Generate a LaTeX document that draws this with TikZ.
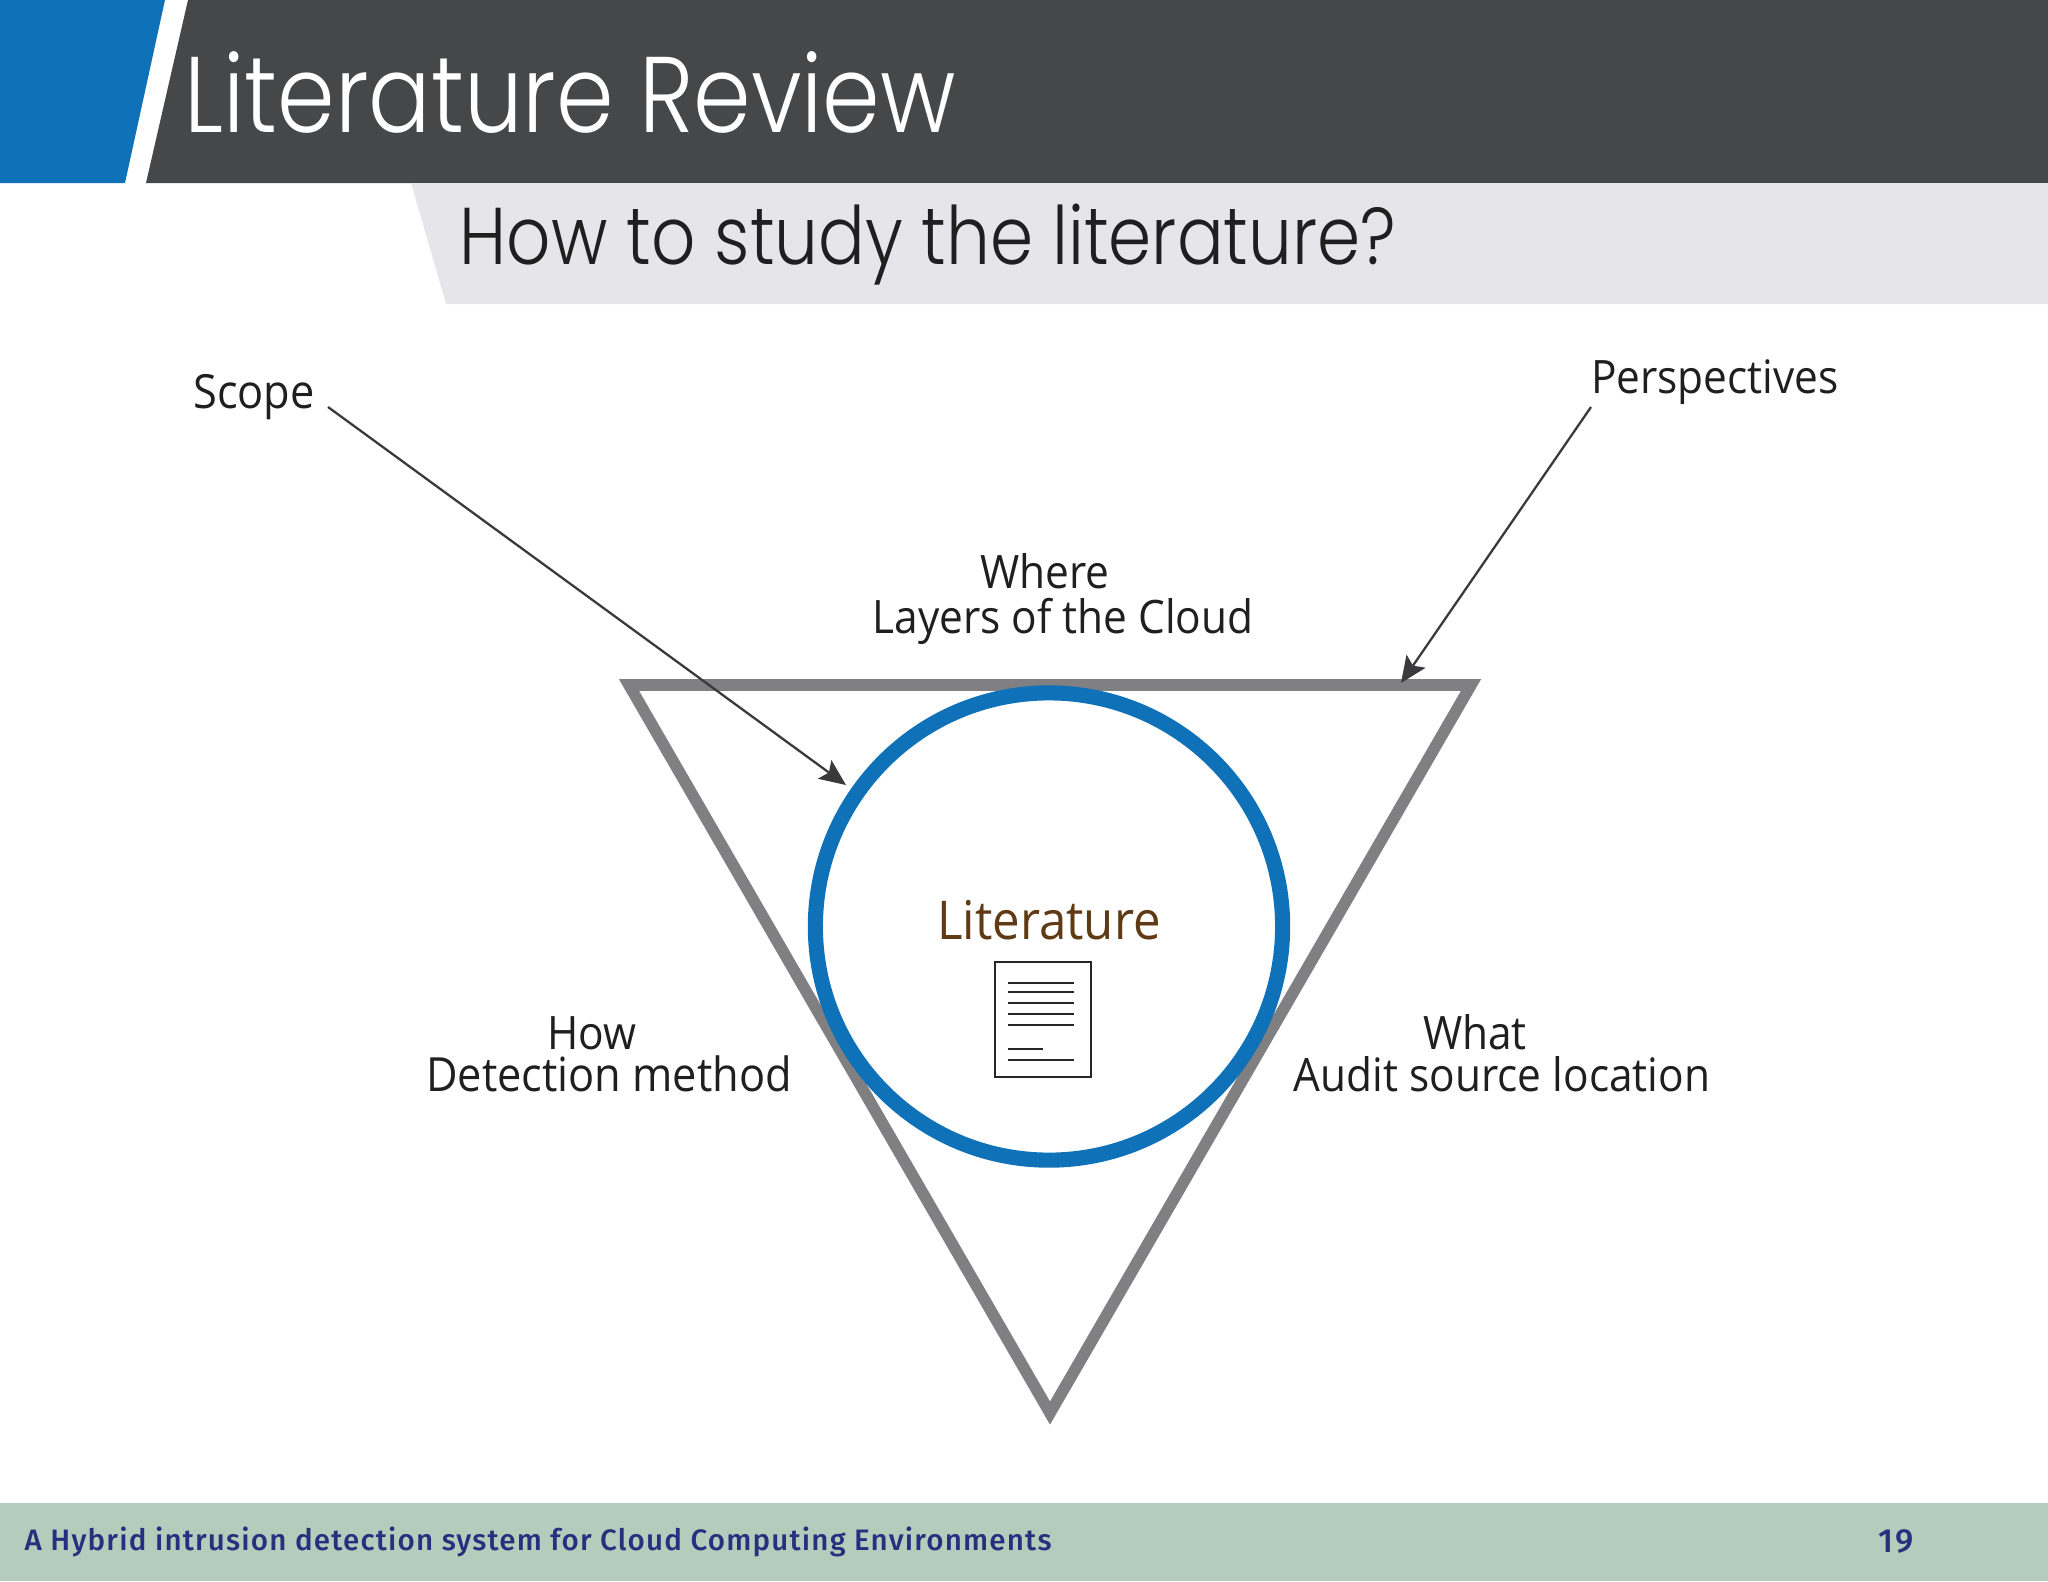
\documentclass[tikz,border=0pt]{standalone}
\usepackage{fontspec}
\usetikzlibrary{arrows.meta}
\setmainfont{Open Sans}
\newfontfamily\headfont[FakeStretch=0.86]{Poppins Light}
\newfontfamily\labelfont[FakeStretch=0.92]{Open Sans}
\newfontfamily\footfont[LetterSpace=4]{Fira Sans Medium}
\definecolor{barblue}{HTML}{0F71B7}
\definecolor{bardark}{HTML}{464748}
\definecolor{bargray}{HTML}{E6E5E9}
\definecolor{barfoot}{HTML}{B3CCBB}
\definecolor{footink}{HTML}{27307F}
\definecolor{litbrown}{HTML}{5F3A14}
\definecolor{trigray}{HTML}{808082}
\definecolor{arrowink}{HTML}{3A3A3C}
\tikzset{
lbl/.style={anchor=base,inner sep=0pt,text=black!88,font=\labelfont\fontsize{13.1}{13.1}\selectfont},
lblwide/.style={lbl,font=\labelfont\fontsize{13.4}{13.4}\selectfont},
arw/.style={draw=arrowink,line width=0.65pt,-{Stealth[length=7.5pt,width=6.5pt,inset=1.5pt]}},
paper/.pic={
  \draw[line width=0.75pt,black!85] (0,0) rectangle (96,115);
  \foreach \y in {21,30,41,52,63,98}
    \draw[line width=0.75pt,black!85] (13,\y) -- (79,\y);
  \draw[line width=0.75pt,black!85] (13,87) -- (48,87);
  }
}
\begin{document}
\begin{tikzpicture}[x=0.01cm,y=-0.01cm]
\useasboundingbox (0,0) rectangle (2048,1581);
\fill[barblue] (0,0) -- (165,0) -- (125,183) -- (0,183) -- cycle;
\fill[bardark] (188,0) -- (2048,0) -- (2048,183) -- (146,183) -- cycle;
\fill[bargray] (411,183) -- (2048,183) -- (2048,304) -- (446,304) -- cycle;
\fill[barfoot] (0,1503) rectangle (2048,1581);
\node[anchor=base west,inner sep=0pt,text=white,font=\headfont\fontsize{30.6}{30.6}\selectfont] (title) at (184,132) {Literature Review};
\node[anchor=base west,inner sep=0pt,text=black!88,font=\headfont\fontsize{22.9}{22.9}\selectfont] (subtitle) at (459,264) {How to study the literature?};
\coordinate (triL) at (629,685);
\coordinate (triR) at (1471,685);
\coordinate (triB) at (1050,1413);
\draw[trigray,line width=3.3pt] (triL) -- (triR) -- (triB) -- cycle;
\node[circle,draw=barblue,line width=4.3pt,minimum size=4.67cm,inner sep=0pt] (litcircle) at (1049,926.5) {};
\node[lbl,text=litbrown,font=\labelfont\fontsize{15.2}{15.2}\selectfont] (litname) at (1049,939) {Literature};
\pic at (995,962) {paper};
\node[lblwide] (scope) at (254,408) {Scope};
\node[lbl] (persp) at (1715,393) {Perspectives};
\node[lbl] (where) at (1045,588) {Where};
\node[lbl] (layers) at (1063,633) {Layers of the Cloud};
\node[lbl] (how) at (592,1049) {How};
\node[lblwide] (detect) at (609,1091) {Detection method};
\node[lbl] (what) at (1475,1049) {What};
\node[lbl] (audit) at (1502,1091) {Audit source location};
\coordinate (scopeout) at (328,407);
\coordinate (scopein) at (846,785);
\coordinate (perspout) at (1591,407);
\coordinate (perspin) at (1401,683);
\draw[arw] (scopeout) -- (scopein);
\draw[arw] (perspout) -- (perspin);
\node[anchor=base west,inner sep=0pt,text=footink,font=\footfont\fontsize{8.4}{8.4}\selectfont] (foottext) at (24,1550) {A Hybrid intrusion detection system for Cloud Computing Environments};
\node[anchor=base west,inner sep=0pt,text=footink,font=\footfont\fontsize{9.5}{9.5}\selectfont] (pageno) at (1878,1552) {19};
\end{tikzpicture}
\end{document}
